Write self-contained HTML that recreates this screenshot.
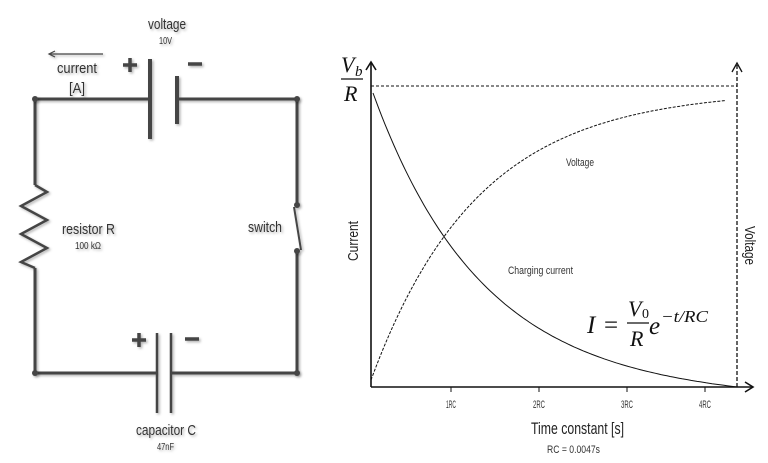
<!DOCTYPE html>
<html><head><meta charset="utf-8"><style>
html,body{margin:0;padding:0;background:#fff;}
svg{display:block;}
.c{font-family:"Liberation Sans","DejaVu Sans",sans-serif;fill:#333;}
</style></head><body>
<svg id="s" width="768" height="463" viewBox="0 0 768 463" xmlns="http://www.w3.org/2000/svg">
<defs><filter id="sh" x="-10%" y="-10%" width="120%" height="120%"><feDropShadow dx="1.5" dy="1.5" stdDeviation="1.2" flood-color="#000" flood-opacity="0.3"/></filter></defs>
<g filter="url(#sh)" stroke="#444" stroke-width="3" fill="none" stroke-linecap="butt">
 <polyline points="150,99 35,99 35,185"/>
 <polyline points="177,99 297,99 297,205"/>
 <polyline points="35,268 35,373 157,373"/>
 <polyline points="171,373 297,373 297,251"/>
 <polyline points="35,185 47,192 21,206 47,220 21,234 47,248 21,262 35,268" stroke-width="2.5"/>
 <line x1="150" y1="59" x2="150" y2="139" stroke-width="4"/>
 <line x1="177" y1="76" x2="177" y2="124" stroke-width="4"/>
 <line x1="157" y1="333" x2="157" y2="413" stroke-width="2.5"/>
 <line x1="171" y1="333" x2="171" y2="413" stroke-width="2.5"/>
 <line x1="294" y1="207" x2="301" y2="250" stroke-width="2"/>
 <line x1="123" y1="65" x2="137" y2="65" stroke-width="3.5"/><line x1="130" y1="58" x2="130" y2="72" stroke-width="3.5"/>
 <line x1="188" y1="64" x2="202" y2="64" stroke-width="3.5"/>
 <line x1="132" y1="340" x2="146" y2="340" stroke-width="3.5"/><line x1="139" y1="333" x2="139" y2="347" stroke-width="3.5"/>
 <line x1="185" y1="339" x2="199" y2="339" stroke-width="3.5"/>
 <line x1="50" y1="54" x2="103" y2="54" stroke-width="1.2"/>
 <polyline points="55,51 49,54 55,57" stroke-width="1.2"/>
</g>
<g fill="#444" filter="url(#sh)">
 <circle cx="35" cy="99" r="3"/><circle cx="297" cy="99" r="3"/>
 <circle cx="35" cy="373" r="3"/><circle cx="297" cy="373" r="3"/>
 <circle cx="297" cy="205" r="3"/><circle cx="297" cy="251" r="3"/>
</g>
<g class="c" filter="url(#sh)" lengthAdjust="spacingAndGlyphs">
 <text x="148" y="29" font-size="15" textLength="38" lengthAdjust="spacingAndGlyphs">voltage</text>
 <text x="159" y="44" font-size="10" textLength="13" lengthAdjust="spacingAndGlyphs">10V</text>
 <text x="57" y="73" font-size="15" textLength="40" lengthAdjust="spacingAndGlyphs">current</text>
 <text x="69" y="93" font-size="15" textLength="16" lengthAdjust="spacingAndGlyphs">[A]</text>
 <text x="62" y="234" font-size="15" textLength="53" lengthAdjust="spacingAndGlyphs">resistor R</text>
 <text x="75" y="249" font-size="10" textLength="26" lengthAdjust="spacingAndGlyphs">100 kΩ</text>
 <text x="248" y="232" font-size="15" textLength="34" lengthAdjust="spacingAndGlyphs">switch</text>
 <text x="136" y="435" font-size="15" textLength="60" lengthAdjust="spacingAndGlyphs">capacitor C</text>
 <text x="157" y="450" font-size="10" textLength="17" lengthAdjust="spacingAndGlyphs">47nF</text>
</g>
<g stroke="#111" fill="none">
 <line x1="371" y1="387" x2="371" y2="63" stroke-width="1.6"/>
 <polyline points="366,70 371,62 376,70" stroke-width="1.6"/>
 <line x1="371" y1="387" x2="752" y2="387" stroke-width="1.6"/>
 <polyline points="745,382 753,387 745,392" stroke-width="1.6"/>
 <line x1="371" y1="86" x2="737" y2="86" stroke-width="1" stroke-dasharray="3,2"/>
 <line x1="737" y1="387" x2="737" y2="64" stroke-width="1.3" stroke-dasharray="4,2"/>
 <polyline points="732,72 737,63 742,72" stroke-width="1.3"/>
 <line x1="451" y1="387" x2="451" y2="392" stroke-width="1"/>
 <line x1="539" y1="387" x2="539" y2="392" stroke-width="1"/>
 <line x1="627" y1="387" x2="627" y2="392" stroke-width="1"/>
 <line x1="705" y1="387" x2="705" y2="392" stroke-width="1"/>
 <path id="cur" stroke-width="1"/>
 <path id="vol" stroke-width="1" stroke-dasharray="3,1.5"/>
</g>
<g class="c" fill="#444">
 <text x="446" y="408" font-size="11" textLength="10" lengthAdjust="spacingAndGlyphs">1RC</text>
 <text x="533" y="408" font-size="11" textLength="12" lengthAdjust="spacingAndGlyphs">2RC</text>
 <text x="621" y="408" font-size="11" textLength="12" lengthAdjust="spacingAndGlyphs">3RC</text>
 <text x="699" y="408" font-size="11" textLength="12" lengthAdjust="spacingAndGlyphs">4RC</text>
 <text x="531" y="434" font-size="17" fill="#222" textLength="93" lengthAdjust="spacingAndGlyphs">Time constant [s]</text>
 <text x="547" y="453" font-size="11" textLength="53" lengthAdjust="spacingAndGlyphs">RC = 0.0047s</text>
 <text x="566" y="166" font-size="11" textLength="28" lengthAdjust="spacingAndGlyphs">Voltage</text>
 <text x="508" y="274" font-size="11" textLength="65" lengthAdjust="spacingAndGlyphs">Charging current</text>
 <text transform="translate(358,261) rotate(-90)" font-size="15" fill="#222" textLength="40" lengthAdjust="spacingAndGlyphs">Current</text>
 <text transform="translate(745,226) rotate(90)" font-size="15" fill="#222" textLength="39" lengthAdjust="spacingAndGlyphs">Voltage</text>
</g>
<g font-family="'Liberation Serif','DejaVu Serif',serif" font-style="italic" fill="#111">
 <text x="341" y="72" font-size="22">V</text><text x="355" y="76" font-size="15">b</text>
 <line x1="341" y1="79" x2="363" y2="79" stroke="#111" stroke-width="1.3"/>
 <text x="344" y="101" font-size="22">R</text>
 <text x="587" y="333" font-size="25">I</text>
 <text x="604" y="333" font-size="25" font-style="normal">=</text>
 <text x="628" y="316" font-size="22">V</text><text x="642" y="318" font-size="14" font-style="normal">0</text>
 <line x1="627" y1="323" x2="649" y2="323" stroke="#111" stroke-width="1.3"/>
 <text x="630" y="346" font-size="22">R</text>
 <text x="649" y="334" font-size="25">e</text>
 <text x="661" y="322" font-size="17" textLength="47" lengthAdjust="spacingAndGlyphs">−t/RC</text>
</g>
<script>
var c="",v="",K=108,E=Math.exp(-364/K);
for(var x=373;x<=737;x+=3){var d=x-373;var y=387-294*(Math.exp(-d/K)-E*d/364);c+=(c?"L":"M")+x+","+y.toFixed(1);}
for(var x=371;x<=727;x+=3){var y=380-290*(1-Math.exp(-(x-371)/107));v+=(v?"L":"M")+x+","+y.toFixed(1);}
document.getElementById("cur").setAttribute("d",c);
document.getElementById("vol").setAttribute("d",v);
</script>
</svg>
</body></html>
